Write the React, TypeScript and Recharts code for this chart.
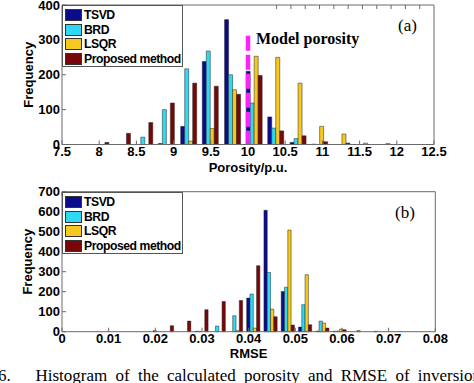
import React from "react";
import {
  Bar,
  BarChart,
  Legend,
  ReferenceLine,
  XAxis,
  YAxis,
} from "recharts";

// (a) porosity histogram, bin centres in p.u.
const porosityBins = [8.02, 8.31, 8.61, 8.9, 9.2, 9.49, 9.79, 10.08, 10.37, 10.67, 10.96, 11.26, 11.55, 11.85];
const tsvdPorosity = [0, 0, 0, 3, 52, 238, 358, 210, 79, 6, 1, 0, 0, 0];
const brdPorosity = [0, 0, 21, 100, 217, 268, 200, 119, 47, 17, 0, 0, 0, 0];
const lsqrPorosity = [0, 0, 0, 0, 10, 46, 157, 253, 250, 176, 52, 30, 4, 3];
const proposedPorosity = [6, 32, 63, 119, 176, 167, 144, 198, 39, 25, 8, 4, 0, 0];

// (b) RMSE histogram
const rmseBins = [0.0188, 0.0225, 0.0262, 0.0299, 0.0336, 0.0373, 0.041, 0.0447, 0.0484, 0.0521, 0.0558, 0.0595, 0.0632, 0.0669];
const tsvdRmse = [0, 0, 0, 2, 0, 0, 168, 607, 201, 23, 3, 2, 0, 0];
const brdRmse = [0, 0, 0, 2, 28, 80, 188, 296, 222, 135, 53, 3, 0, 0];
const lsqrRmse = [0, 0, 0, 0, 0, 5, 18, 113, 508, 285, 43, 13, 6, 2];
const proposedRmse = [5, 30, 53, 110, 151, 156, 330, 75, 33, 35, 18, 10, 0, 0];

const porosityTicks = [7.5, 8, 8.5, 9, 9.5, 10, 10.5, 11, 11.5, 12, 12.5];
const rmseTicks = [0, 0.01, 0.02, 0.03, 0.04, 0.05, 0.06, 0.07, 0.08];
const porosityFreqTicks = [0, 100, 200, 300, 400];
const rmseFreqTicks = [0, 100, 200, 300, 400, 500, 600, 700];

const MODEL_POROSITY = 10;
const MODEL_LINE_TOP = 312;

const SERIES = [
  { key: "tsvd", name: "TSVD", color: "#0b0b8e" },
  { key: "brd", name: "BRD", color: "#2fd9f4" },
  { key: "lsqr", name: "LSQR", color: "#f7c81e" },
  { key: "proposed", name: "Proposed method", color: "#780808" },
];

const porosityData = porosityBins.map((x, i) => ({
  x,
  tsvd: tsvdPorosity[i],
  brd: brdPorosity[i],
  lsqr: lsqrPorosity[i],
  proposed: proposedPorosity[i],
}));

const rmseData = rmseBins.map((x, i) => ({
  x,
  tsvd: tsvdRmse[i],
  brd: brdRmse[i],
  lsqr: lsqrRmse[i],
  proposed: proposedRmse[i],
}));

const SANS = "'Liberation Sans', Arial, sans-serif";
const SERIF = "'Liberation Serif', 'Times New Roman', serif";
const AXIS_GREY = "#6b6b6b";
const boldSans = { fontFamily: SANS, fontSize: 13, fontWeight: 700 };

// tick text drawn by hand so the bold weight sticks
function XTick({ x, y, payload }: any) {
  return (
    <text x={x} y={y} dy={9.5} textAnchor="middle" style={boldSans} fill="#000">
      {String(payload.value)}
    </text>
  );
}

function YTick({ x, y, payload }: any) {
  return (
    <text x={x} y={y} dy={4.5} textAnchor="end" style={boldSans} fill="#000">
      {String(payload.value)}
    </text>
  );
}

function LegendBox() {
  return (
    <div
      style={{
        width: 119,
        height: 58,
        border: "1px solid #555",
        background: "#fff",
        paddingTop: 2,
        fontFamily: SANS,
        fontWeight: 700,
        fontSize: 12.2,
        letterSpacing: -0.45,
        color: "#000",
        whiteSpace: "nowrap",
        overflow: "hidden",
      }}
    >
      {SERIES.map((s) => (
        <div key={s.key} style={{ display: "flex", alignItems: "center", height: 14.6 }}>
          <span
            style={{
              display: "inline-block",
              flex: "none",
              width: 15,
              height: 10,
              marginLeft: 2,
              marginRight: 2,
              background: s.color,
              border: "1px solid #333",
            }}
          />
          <span style={{ lineHeight: "14px" }}>{s.name}</span>
        </div>
      ))}
    </div>
  );
}

function frequencyLabel({ viewBox }: any) {
  const cx = 28;
  const cy = viewBox.y + viewBox.height / 2;
  return (
    <text
      x={cx}
      y={cy}
      transform={`rotate(-90, ${cx}, ${cy})`}
      textAnchor="middle"
      dominantBaseline="central"
      style={boldSans}
      fill="#000"
    >
      Frequency
    </text>
  );
}

interface PanelProps {
  data: { x: number }[];
  xDomain: [number, number];
  xTicks: number[];
  yMax: number;
  yTicks: number[];
  xLabel: string;
  barSize: number;
  tag: string;
  tagX: number;
  margin: { top: number; right: number; bottom: number; left: number };
  xAxisHeight: number;
  children?: React.ReactNode;
}

function HistogramPanel(p: PanelProps) {
  return (
    <BarChart width={474} height={190} data={p.data} margin={p.margin} barGap={0} barSize={p.barSize}>
      <XAxis
        dataKey="x"
        type="number"
        domain={p.xDomain}
        ticks={p.xTicks}
        interval={0}
        allowDataOverflow
        height={p.xAxisHeight}
        stroke={AXIS_GREY}
        tickSize={-4}
        tickMargin={5.5}
        tick={<XTick />}
        label={{
          value: p.xLabel,
          position: "insideBottom",
          offset: 18,
          style: { ...boldSans, fill: "#000" },
        }}
      />
      <XAxis
        xAxisId="top"
        orientation="top"
        type="number"
        domain={p.xDomain}
        ticks={p.xTicks}
        interval={0}
        height={1}
        stroke={AXIS_GREY}
        tickSize={-4}
        tick={() => <g />}
      />
      <YAxis
        domain={[0, p.yMax]}
        ticks={p.yTicks}
        interval={0}
        width={62}
        stroke={AXIS_GREY}
        tickSize={-4}
        tickMargin={6}
        tick={<YTick />}
        label={{ content: frequencyLabel }}
      />
      <YAxis
        yAxisId="right"
        orientation="right"
        domain={[0, p.yMax]}
        ticks={p.yTicks}
        interval={0}
        width={1}
        stroke={AXIS_GREY}
        tickSize={-4}
        tick={() => <g />}
      />
      {SERIES.map((s) => (
        <Bar
          key={s.key}
          dataKey={s.key}
          name={s.name}
          fill={s.color}
          stroke="#222"
          strokeWidth={0.5}
          isAnimationActive={false}
        />
      ))}
      {p.children}
      <Legend
        layout="vertical"
        align="center"
        verticalAlign="middle"
        wrapperStyle={{ left: 62, top: p.margin.top + 1, width: 121 }}
        content={() => <LegendBox />}
      />
      <text
        x={p.tagX}
        y={p.margin.top + 27}
        style={{ fontFamily: SERIF, fontSize: 17 }}
        fill="#000"
      >
        {p.tag}
      </text>
    </BarChart>
  );
}

export default function App() {
  return (
    <div
      style={{
        position: "absolute",
        left: 0,
        top: 0,
        width: 474,
        height: 383,
        overflow: "hidden",
        background: "#fff",
      }}
    >
      <div style={{ position: "absolute", left: 0, top: 0 }}>
        <HistogramPanel
          data={porosityData}
          xDomain={[7.5, 12.5]}
          xTicks={porosityTicks}
          yMax={400}
          yTicks={porosityFreqTicks}
          xLabel="Porosity/p.u."
          barSize={4}
          tag="(a)"
          tagX={398}
          margin={{ top: 4, right: 39, bottom: 0, left: 0 }}
          xAxisHeight={45.5}
        >
          <ReferenceLine
            segment={[
              { x: MODEL_POROSITY, y: MODEL_LINE_TOP },
              { x: MODEL_POROSITY, y: 0 },
            ]}
            stroke="#ff22ff"
            strokeWidth={4.5}
            strokeDasharray="15 4"
            label={{
              content: ({ viewBox }: any) => (
                <text
                  x={viewBox.x + 8}
                  y={viewBox.y + 8}
                  style={{ fontFamily: SERIF, fontSize: 16, fontWeight: 700 }}
                  fill="#000"
                >
                  Model porosity
                </text>
              ),
            }}
          />
        </HistogramPanel>
      </div>
      <div style={{ position: "absolute", left: 0, top: 186 }}>
        <HistogramPanel
          data={rmseData}
          xDomain={[0, 0.08]}
          xTicks={rmseTicks}
          yMax={700}
          yTicks={rmseFreqTicks}
          xLabel="RMSE"
          barSize={3.3}
          tag="(b)"
          tagX={395}
          margin={{ top: 4.7, right: 37.7, bottom: 0, left: 0 }}
          xAxisHeight={44.3}
        />
      </div>
      <div
        style={{
          position: "absolute",
          left: -2,
          top: 366,
          whiteSpace: "nowrap",
          fontFamily: SERIF,
          fontSize: 17,
          color: "#000",
          wordSpacing: 4,
        }}
      >
        6.&nbsp;&nbsp;&nbsp;Histogram of the calculated porosity and RMSE of inversion
      </div>
    </div>
  );
}
